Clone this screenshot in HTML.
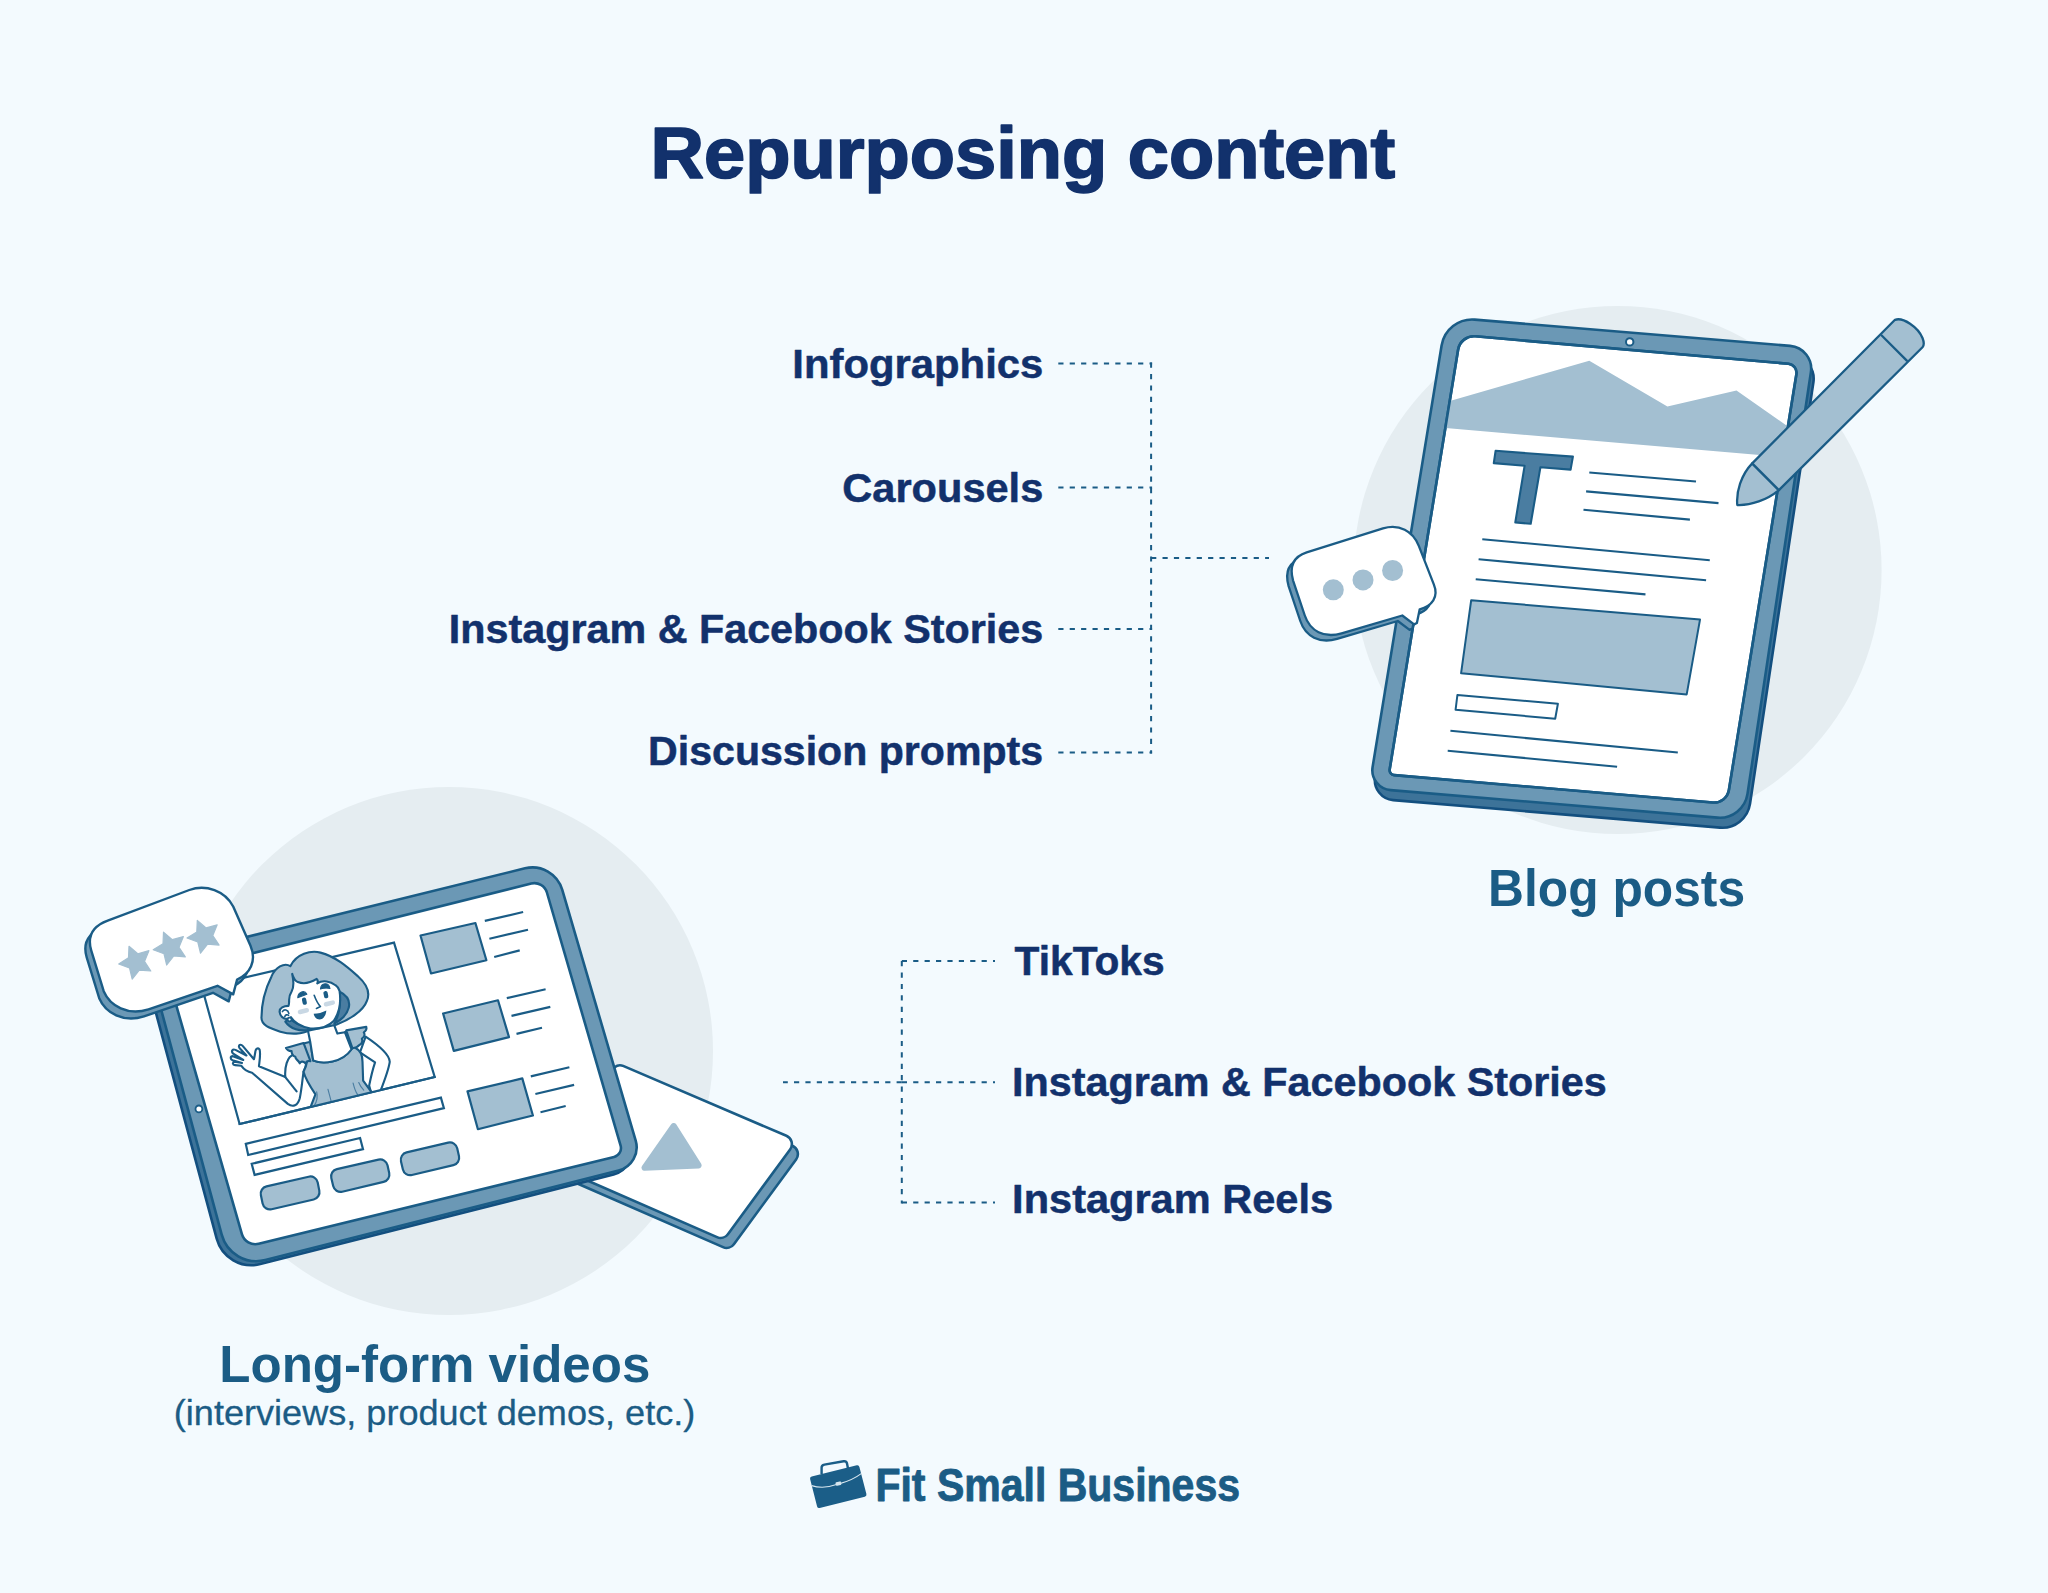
<!DOCTYPE html>
<html><head><meta charset="utf-8"><title>Repurposing content</title>
<style>
html,body{margin:0;padding:0;background:#f3fafe;}
body{width:2048px;height:1593px;overflow:hidden;font-family:"Liberation Sans",sans-serif;}
svg{display:block}
text{font-family:"Liberation Sans",sans-serif;}
</style></head><body>
<svg width="2048" height="1593" viewBox="0 0 2048 1593">
<rect width="2048" height="1593" fill="#f3fafe"/>
<circle cx="1617.6" cy="570" r="264" fill="#e5edf1"/>
<circle cx="449" cy="1051" r="264" fill="#e5edf1"/>
<g stroke="#1a5c86" stroke-width="2" fill="none" stroke-dasharray="5.2 6.2">
<path d="M1058.3,363.6 H1152.1"/>
<path d="M1058.3,487.4 H1152.1"/>
<path d="M1058.3,629.1 H1152.1"/>
<path d="M1058.3,752.6 H1152.1"/>
<path d="M1151.1,362.6 V753.6"/>
<path d="M1151.1,558 H1269"/>
<path d="M901.8,961.1 H995"/>
<path d="M901.8,1082.2 H995"/>
<path d="M901.8,1202.6 H995"/>
<path d="M901.8,961.1 V1203.6"/>
<path d="M901.8,1082.2 H783"/>
</g>
<text x="650.6" y="178.3" font-size="72.6" font-weight="bold" fill="#12316c" text-anchor="start" textLength="744.6" lengthAdjust="spacingAndGlyphs" stroke="#12316c" stroke-width="1.7" stroke-linejoin="round">Repurposing content</text>
<text x="792.3" y="377.9" font-size="41.2" font-weight="bold" fill="#12316c" text-anchor="start" textLength="251" lengthAdjust="spacingAndGlyphs" stroke="#12316c" stroke-width="0.5" stroke-linejoin="round">Infographics</text>
<text x="842.3" y="501.9" font-size="41.2" font-weight="bold" fill="#12316c" text-anchor="start" textLength="201" lengthAdjust="spacingAndGlyphs" stroke="#12316c" stroke-width="0.5" stroke-linejoin="round">Carousels</text>
<text x="448.8" y="643.1" font-size="41.2" font-weight="bold" fill="#12316c" text-anchor="start" textLength="594.4" lengthAdjust="spacingAndGlyphs" stroke="#12316c" stroke-width="0.5" stroke-linejoin="round">Instagram &amp; Facebook Stories</text>
<text x="648.1" y="764.8" font-size="41.2" font-weight="bold" fill="#12316c" text-anchor="start" textLength="395" lengthAdjust="spacingAndGlyphs" stroke="#12316c" stroke-width="0.5" stroke-linejoin="round">Discussion prompts</text>
<text x="1014.6" y="974.9" font-size="41.2" font-weight="bold" fill="#12316c" text-anchor="start" textLength="150" lengthAdjust="spacingAndGlyphs" stroke="#12316c" stroke-width="0.5" stroke-linejoin="round">TikToks</text>
<text x="1012.1" y="1096.4" font-size="41.2" font-weight="bold" fill="#12316c" text-anchor="start" textLength="594.6" lengthAdjust="spacingAndGlyphs" stroke="#12316c" stroke-width="0.5" stroke-linejoin="round">Instagram &amp; Facebook Stories</text>
<text x="1012.1" y="1212.7" font-size="41.2" font-weight="bold" fill="#12316c" text-anchor="start" textLength="321" lengthAdjust="spacingAndGlyphs" stroke="#12316c" stroke-width="0.5" stroke-linejoin="round">Instagram Reels</text>
<text x="1488.1" y="906.4" font-size="51.2" font-weight="bold" fill="#1b5c85" text-anchor="start" textLength="257" lengthAdjust="spacingAndGlyphs">Blog posts</text>
<text x="219.3" y="1382.3" font-size="50.9" font-weight="bold" fill="#1b5c85" text-anchor="start" textLength="431" lengthAdjust="spacingAndGlyphs">Long-form videos</text>
<text x="173.8" y="1425.3" font-size="35" font-weight="normal" fill="#1b5c85" text-anchor="start" textLength="521.5" lengthAdjust="spacingAndGlyphs" stroke="#1b5c85" stroke-width="0.3" stroke-linejoin="round">(interviews, product demos, etc.)</text>
<text x="875.4" y="1501.1" font-size="45.6" font-weight="bold" fill="#1b5c85" stroke="#1b5c85" stroke-width="0.9" stroke-linejoin="round" textLength="364.6" lengthAdjust="spacingAndGlyphs">Fit Small Business</text>
<g stroke-linejoin="round" stroke-linecap="round">
<path d="M1444.1,355.5 A31.0,31.0 0 0 1 1477.2,329.6 L1792.6,355.9 A23.0,23.0 0 0 1 1813.4,382.2 L1750.0,803.9 A28.0,28.0 0 0 1 1720.0,827.6 L1393.2,800.1 A20.0,20.0 0 0 1 1375.1,777.0 Z" fill="#3d7399" stroke="#134f7f" stroke-width="2.6"/>
<path d="M1441.6,345.5 A31.0,31.0 0 0 1 1474.7,319.6 L1790.1,345.9 A23.0,23.0 0 0 1 1810.9,372.2 L1747.5,793.9 A28.0,28.0 0 0 1 1717.5,817.6 L1390.7,790.1 A20.0,20.0 0 0 1 1372.6,767.0 Z" fill="#6b98b5" stroke="#1a5c86" stroke-width="2.6"/>
<clipPath id="rscr"><path d="M1458.1,349.7 A16.0,16.0 0 0 1 1475.3,336.3 L1788.4,363.8 A9.0,9.0 0 0 1 1796.4,374.2 L1728.9,790.0 A15.0,15.0 0 0 1 1712.8,802.5 L1394.2,775.1 A5.0,5.0 0 0 1 1389.7,769.3 Z"/></clipPath>
<path d="M1458.1,349.7 A16.0,16.0 0 0 1 1475.3,336.3 L1788.4,363.8 A9.0,9.0 0 0 1 1796.4,374.2 L1728.9,790.0 A15.0,15.0 0 0 1 1712.8,802.5 L1394.2,775.1 A5.0,5.0 0 0 1 1389.7,769.3 Z" fill="#ffffff" stroke="#1a5c86" stroke-width="2.6"/>
<g clip-path="url(#rscr)">
<polygon points="1440.0,404.0 1449.9,401.1 1589.3,360.7 1667.4,406.4 1736.5,390.4 1795.0,431.5 1795.0,458.0 1440.0,427.5" fill="#a3bfd1"/>
</g>
<path d="M1458.1,349.7 A16.0,16.0 0 0 1 1475.3,336.3 L1788.4,363.8 A9.0,9.0 0 0 1 1796.4,374.2 L1728.9,790.0 A15.0,15.0 0 0 1 1712.8,802.5 L1394.2,775.1 A5.0,5.0 0 0 1 1389.7,769.3 Z" fill="none" stroke="#1a5c86" stroke-width="2.6"/>
<circle cx="1629.7" cy="341.9" r="3.7" fill="#fff" stroke="#1a5c86" stroke-width="2"/>
<polygon points="1495.6,450.8 1572.9,456.6 1570.6,469.6 1540.4,467.2 1530.7,523.8 1515.3,522.4 1524.6,465.8 1493.8,463.1" fill="#4a7da1" stroke="#1a5c86" stroke-width="2.1"/>
<line x1="1589.3" y1="472.5" x2="1696" y2="481.5" stroke="#1a5c86" stroke-width="2.1" stroke-linecap="butt"/>
<line x1="1586.1" y1="491.4" x2="1718.5" y2="503.1" stroke="#1a5c86" stroke-width="2.1" stroke-linecap="butt"/>
<line x1="1583.5" y1="509.7" x2="1689.9" y2="519.6" stroke="#1a5c86" stroke-width="2.1" stroke-linecap="butt"/>
<line x1="1482.3" y1="539.2" x2="1709.8" y2="560.3" stroke="#1a5c86" stroke-width="2.1" stroke-linecap="butt"/>
<line x1="1478.6" y1="559.2" x2="1706.1" y2="580.2" stroke="#1a5c86" stroke-width="2.1" stroke-linecap="butt"/>
<line x1="1475.7" y1="579.2" x2="1645.5" y2="594.4" stroke="#1a5c86" stroke-width="2.1" stroke-linecap="butt"/>
<line x1="1450.4" y1="730.8" x2="1677.8" y2="752.5" stroke="#1a5c86" stroke-width="2.1" stroke-linecap="butt"/>
<line x1="1447.7" y1="750.7" x2="1617.1" y2="766.8" stroke="#1a5c86" stroke-width="2.1" stroke-linecap="butt"/>
<polygon points="1471.2,600.2 1700.0,619.6 1686.7,694.4 1461.1,673.2" fill="#a3bfd1" stroke="#1a5c86" stroke-width="2"/>
<polygon points="1457.4,695.0 1557.9,703.7 1555.2,718.7 1455.6,709.7" fill="#fff" stroke="#1a5c86" stroke-width="2"/>
<path d="M1752.2,463.4 C1741,475 1736,492 1737.3,505 C1751,505.5 1767,500 1778.9,490.1 Z" fill="#a3bfd1" stroke="#1a5c86" stroke-width="2.3"/>
<path d="M1752.2,463.4 L1895,319.8 C1903,317 1918,327 1922.5,338 C1924.5,343 1924,345.5 1922.5,347.3 L1778.9,490.1 Z" fill="#a3bfd1" stroke="#1a5c86" stroke-width="2.3"/>
<line x1="1881.7" y1="335.5" x2="1906.8" y2="360.6" stroke="#1a5c86" stroke-width="2.3"/>
<path d="M1306.7,552.4 L1383,528.4 C1399,523.5 1413,531 1418.8,545.8 L1433.8,584.4 C1439,597 1432,606 1419.7,609.3 L1416.9,623 L1414.1,624.4 L1402.3,615.5 L1341.6,633.4 C1324,638.5 1310,631 1304.8,615.5 L1293.1,580.6 C1289,566 1294,556.5 1306.7,552.4 Z" transform="translate(-4.5,5.5)" fill="#6b98b5" stroke="#1a5c86" stroke-width="2.3"/>
<path d="M1306.7,552.4 L1383,528.4 C1399,523.5 1413,531 1418.8,545.8 L1433.8,584.4 C1439,597 1432,606 1419.7,609.3 L1416.9,623 L1414.1,624.4 L1402.3,615.5 L1341.6,633.4 C1324,638.5 1310,631 1304.8,615.5 L1293.1,580.6 C1289,566 1294,556.5 1306.7,552.4 Z" fill="#fff" stroke="#1a5c86" stroke-width="2.3"/>
<circle cx="1333.3" cy="589.8" r="10.5" fill="#a3bfd1"/>
<circle cx="1363" cy="579.9" r="10.5" fill="#a3bfd1"/>
<circle cx="1392.6" cy="570.5" r="10.5" fill="#a3bfd1"/>
</g>
<g stroke-linejoin="round" stroke-linecap="round">
<path d="M618.8,1079.5 A8.0,8.0 0 0 1 629.1,1075.9 L792.4,1145.8 A9.0,9.0 0 0 1 796.1,1159.4 L733.9,1244.2 A9.0,9.0 0 0 1 723.0,1247.1 L573.9,1182.0 A8.0,8.0 0 0 1 570.1,1170.9 Z" fill="#6b98b5" stroke="#1a5c86" stroke-width="2.6"/>
<path d="M612.8,1069.5 A8.0,8.0 0 0 1 623.1,1065.9 L786.4,1135.8 A9.0,9.0 0 0 1 790.1,1149.4 L727.9,1234.2 A9.0,9.0 0 0 1 717.0,1237.1 L567.9,1172.0 A8.0,8.0 0 0 1 564.1,1160.9 Z" fill="#fff" stroke="#1a5c86" stroke-width="2.6"/>
<path d="M671.2,1124.2 A3.0,3.0 0 0 1 676.2,1124.3 L701.2,1163.8 A3.0,3.0 0 0 1 698.8,1168.4 L644.6,1170.7 A3.0,3.0 0 0 1 642.0,1166.0 Z" fill="#a3bfd1"/>
<path d="M151.1,994.9 A30.0,30.0 0 0 1 172.8,958.0 L520.0,872.3 A31.0,31.0 0 0 1 557.2,893.7 L630.7,1144.6 A24.0,24.0 0 0 1 613.6,1174.6 L260.3,1264.1 A36.0,36.0 0 0 1 216.7,1238.6 Z" fill="#3d7399" stroke="#134f7f" stroke-width="2.6"/>
<path d="M156.1,990.9 A30.0,30.0 0 0 1 177.8,954.0 L525.0,868.3 A31.0,31.0 0 0 1 562.2,889.7 L635.7,1140.6 A24.0,24.0 0 0 1 618.6,1170.6 L265.3,1260.1 A36.0,36.0 0 0 1 221.7,1234.6 Z" fill="#6b98b5" stroke="#1a5c86" stroke-width="2.6"/>
<path d="M170.8,986.4 A12.0,12.0 0 0 1 179.5,971.5 L531.3,883.5 A13.0,13.0 0 0 1 546.9,892.5 L620.6,1145.7 A9.0,9.0 0 0 1 614.1,1156.9 L258.7,1243.8 A14.0,14.0 0 0 1 241.9,1234.1 Z" fill="#fff" stroke="#1a5c86" stroke-width="2.6"/>
<circle cx="198.9" cy="1108.9" r="3.4" fill="#fff" stroke="#1a5c86" stroke-width="1.8"/>
<polygon points="420.5,935.5 475.4,923.0 486.4,960.3 431.0,973.5" fill="#a3bfd1" stroke="#1a5c86" stroke-width="2.2"/>
<polygon points="443.1,1013.5 498.0,1000.3 509.0,1037.1 453.8,1050.9" fill="#a3bfd1" stroke="#1a5c86" stroke-width="2.2"/>
<polygon points="467.5,1091.4 522.3,1078.4 532.9,1115.5 477.9,1129.2" fill="#a3bfd1" stroke="#1a5c86" stroke-width="2.2"/>
<line x1="484.8" y1="920.9" x2="523.1" y2="912" stroke="#1a5c86" stroke-width="2.2" stroke-linecap="butt"/>
<line x1="489.4" y1="938.8" x2="528" y2="929.7" stroke="#1a5c86" stroke-width="2.2" stroke-linecap="butt"/>
<line x1="494.2" y1="957" x2="519.7" y2="950.4" stroke="#1a5c86" stroke-width="2.2" stroke-linecap="butt"/>
<line x1="506.8" y1="998.1" x2="545.6" y2="989.2" stroke="#1a5c86" stroke-width="2.2" stroke-linecap="butt"/>
<line x1="511.5" y1="1015.9" x2="550.3" y2="1006.9" stroke="#1a5c86" stroke-width="2.2" stroke-linecap="butt"/>
<line x1="516.5" y1="1033.9" x2="542" y2="1027.8" stroke="#1a5c86" stroke-width="2.2" stroke-linecap="butt"/>
<line x1="530.8" y1="1076.4" x2="569.4" y2="1067.2" stroke="#1a5c86" stroke-width="2.2" stroke-linecap="butt"/>
<line x1="535.4" y1="1094" x2="574.1" y2="1084.9" stroke="#1a5c86" stroke-width="2.2" stroke-linecap="butt"/>
<line x1="540.5" y1="1112.2" x2="565.7" y2="1106" stroke="#1a5c86" stroke-width="2.2" stroke-linecap="butt"/>
<polygon points="245.8,1143.9 440.9,1097.6 443.9,1108.1 248.2,1155.0" fill="#fff" stroke="#1a5c86" stroke-width="2.2" stroke-linejoin="miter"/>
<polygon points="251.7,1163.8 360.1,1138.0 363.0,1149.1 254.6,1174.9" fill="#fff" stroke="#1a5c86" stroke-width="2.2" stroke-linejoin="miter"/>
<path d="M260.9,1195.3 A7.5,7.5 0 0 1 266.5,1186.4 L308.6,1176.7 A7.5,7.5 0 0 1 317.7,1182.5 L319.3,1190.6 A7.5,7.5 0 0 1 313.7,1199.5 L271.6,1209.2 A7.5,7.5 0 0 1 262.6,1203.5 Z" fill="#a3bfd1" stroke="#1a5c86" stroke-width="2.2"/>
<path d="M331.3,1178.1 A7.5,7.5 0 0 1 336.9,1169.1 L378.5,1159.6 A7.5,7.5 0 0 1 387.5,1165.3 L389.2,1173.0 A7.5,7.5 0 0 1 383.6,1181.9 L342.2,1191.7 A7.5,7.5 0 0 1 333.2,1186.1 Z" fill="#a3bfd1" stroke="#1a5c86" stroke-width="2.2"/>
<path d="M401.0,1161.4 A7.5,7.5 0 0 1 406.6,1152.4 L448.2,1142.6 A7.5,7.5 0 0 1 457.2,1148.3 L459.0,1156.2 A7.5,7.5 0 0 1 453.4,1165.1 L411.9,1175.0 A7.5,7.5 0 0 1 402.9,1169.4 Z" fill="#a3bfd1" stroke="#1a5c86" stroke-width="2.2"/>
<polygon points="202.0,987.6 394.0,942.6 434.7,1077.0 239.6,1124.0" fill="#fff" stroke="#1a5c86" stroke-width="2.2" stroke-linejoin="miter"/>
<clipPath id="pclip"><polygon points="-300,-300 2300,-300 2300,1047 1790,1170 235,1545 -300,1674"/></clipPath>
<g transform="translate(210,930) scale(0.12552)"><g clip-path="url(#pclip)" stroke-width="17" stroke="#1a5c86">
<path d="M1240,850 C1330,910 1430,990 1432,1050 C1425,1100 1390,1200 1355,1290 L1285,1300 L1268,1240 C1280,1180 1300,1100 1315,1055 L1195,975 Z" fill="#fff"/>
<path d="M668,992 C612,1008 594,1100 600,1172 L390,1085 C395,1040 405,985 395,952 C385,935 365,945 362,965 C358,990 355,1010 350,1030 L262,925 C245,905 220,915 235,940 L290,1000 L203,955 C180,945 165,965 185,985 L265,1035 L182,1005 C160,1005 160,1030 180,1037 L255,1060 L197,1050 C175,1055 180,1075 200,1077 L250,1082 C270,1110 300,1130 335,1137 L620,1385 C660,1415 700,1400 715,1340 C730,1270 735,1200 745,1130 C760,1100 770,1070 765,1050 L700,1000 Z" fill="#fff"/>
<path d="M600,1172 L690,1285" fill="none"/>
<path d="M745,905 L800,890 L822,1040 C900,1070 1050,1060 1128,950 L1075,815 L1100,805 L1160,940 C1200,960 1215,1000 1215,1050 L1220,1200 L1300,1310 L790,1440 L840,1310 C800,1250 760,1190 745,1130 C760,1100 770,1070 775,1040 Z" fill="#a3bfd1"/>
<path d="M778,790 L798,888 L822,1040 C900,1070 1050,1060 1128,950 L1075,815 L1015,825 L985,745 Z" fill="#fff"/>
<path d="M605,940 L745,900 L800,1045 C780,1038 768,1048 760,1062 C740,1040 722,1048 715,1062 C700,1032 680,1032 680,1010 C660,1002 650,986 650,965 C630,966 615,956 605,940 Z" fill="#a3bfd1"/>
<path d="M1085,800 L1245,772 C1250,790 1240,806 1225,815 C1240,835 1226,856 1210,865 C1220,890 1206,910 1190,916 C1180,930 1160,940 1135,942 Z" fill="#a3bfd1"/>
<path d="M850,1290 C860,1330 850,1370 830,1400 M940,1270 C950,1310 960,1340 965,1365 M1140,1220 C1150,1260 1160,1290 1175,1310 M1185,1215 C1195,1240 1210,1260 1225,1275" fill="none" stroke="#4a7da1" stroke-width="9"/>
<path d="M640,288 C690,190 800,160 880,180 C1000,210 1100,300 1180,370 C1245,428 1280,495 1250,565 C1220,650 1100,720 1005,755 L790,800 C740,830 640,835 560,810 C470,780 410,760 410,700 C410,600 440,470 490,370 C520,300 590,255 640,288 Z" fill="#a3bfd1"/>
<path d="M1030,490 C1090,520 1120,560 1105,620 C1090,680 1040,720 990,745 C1030,680 1045,580 1030,490 Z" fill="#4a7da1"/>
<path d="M600,730 C640,790 720,810 790,795 L780,775 C720,765 660,735 640,700 Z" fill="#4a7da1"/>
<path d="M655,350 C665,385 680,405 700,415 C750,435 810,415 850,390 C860,400 860,415 855,425 C900,395 960,410 1000,440 C1015,450 1025,465 1032,485 C1045,570 1030,660 985,725 C945,765 880,790 800,785 C730,770 670,735 645,695 C610,725 560,700 555,655 C550,620 590,605 625,605 C640,560 615,545 650,490 C675,445 665,395 655,350 Z" fill="#fff"/>
<path d="M577,650 C590,628 622,634 628,664 M596,690 C600,675 615,672 626,680" fill="none" stroke-width="13"/>
<circle cx="634" cy="713" r="15" fill="#fff" stroke-width="13"/>
<g stroke="none" fill="#1a5c86"><rect x="735" y="538" width="34" height="58" rx="15" transform="rotate(-12 752 567)"/><rect x="906" y="486" width="34" height="58" rx="15" transform="rotate(-12 923 515)"/><path d="M699,540 C700,490 755,475 772,512 C750,520 725,528 699,540 Z" stroke="#1a5c86" stroke-width="8"/><path d="M880,470 C885,420 945,412 956,466 C935,462 905,462 880,470 Z" stroke="#1a5c86" stroke-width="8"/><path d="M826,668 C860,668 895,658 927,642 C924,697 885,724 855,710 C840,702 829,686 826,668 Z"/></g>
<path d="M830,520 C845,560 860,590 880,610 L848,625" fill="none" stroke-width="13"/>
<g stroke="none" fill="#c9d8e4"><rect x="698" y="628" width="92" height="36" rx="18" transform="rotate(-14 744 646)"/><rect x="905" y="567" width="92" height="36" rx="18" transform="rotate(-14 951 585)"/></g>
</g></g>
<polyline points="434.7,1077.0 239.6,1124.0" fill="none" stroke="#1a5c86" stroke-width="2.2"/>
<path d="M107.7,920.6 L189.3,890 C206,884 225,891 233.2,906.5 L250.5,945.7 C257,961 250,974 237.1,979.5 L233.2,994.4 L217.5,985.8 L148.5,1009.3 C128,1016 110,1006 103.7,991.2 L91.2,950.4 C87,936 93,926 107.7,920.6 Z" transform="translate(-4.5,7)" fill="#6b98b5" stroke="#1a5c86" stroke-width="2.4"/>
<path d="M107.7,920.6 L189.3,890 C206,884 225,891 233.2,906.5 L250.5,945.7 C257,961 250,974 237.1,979.5 L233.2,994.4 L217.5,985.8 L148.5,1009.3 C128,1016 110,1006 103.7,991.2 L91.2,950.4 C87,936 93,926 107.7,920.6 Z" fill="#fff" stroke="#1a5c86" stroke-width="2.4"/>
<polygon points="129.0,946.3 137.8,953.8 148.9,950.7 144.5,961.4 150.8,971.0 139.3,970.1 132.2,979.1 129.5,967.9 118.7,963.9 128.5,957.8" fill="#a3bfd1" stroke="#a3bfd1" stroke-width="1.2"/>
<polygon points="163.5,932.2 172.3,939.7 183.4,936.6 179.0,947.3 185.3,956.9 173.8,956.0 166.7,965.0 164.0,953.8 153.2,949.8 163.0,943.7" fill="#a3bfd1" stroke="#a3bfd1" stroke-width="1.2"/>
<polygon points="197.3,920.4 206.1,927.9 217.2,924.8 212.8,935.5 219.1,945.1 207.6,944.2 200.5,953.2 197.8,942.0 187.0,938.0 196.8,931.9" fill="#a3bfd1" stroke="#a3bfd1" stroke-width="1.2"/>
</g>
<path d="M821.6,1474 L821.6,1467.6 C821.5,1465.8 822.6,1465 824.4,1464.6 L843.6,1461.3 C845.6,1461 846.6,1461.8 847,1463.4 L848,1468.5" fill="none" stroke="#1b5e88" stroke-width="2.4" stroke-linecap="butt" stroke-linejoin="round"/>
<path d="M810.1,1479.1 A2.2,2.2 0 0 1 811.7,1476.4 L856.8,1465.3 A2.2,2.2 0 0 1 859.4,1466.9 L866.4,1494.1 A2.2,2.2 0 0 1 864.8,1496.7 L819.7,1508.0 A2.2,2.2 0 0 1 817.1,1506.4 Z" fill="#1b5e88"/>
<path d="M811.6,1485.6 C820,1488.2 829,1487.2 836.5,1484.6 M840.5,1483.4 C849,1481 856,1477.5 861.2,1473.6" fill="none" stroke="#d7e6ef" stroke-width="1.1"/>
<rect x="835.6" y="1481.8" width="5.6" height="3.6" rx="1" fill="#d7e6ef" transform="rotate(-14 838.4 1483.6)"/>
</svg>
</body></html>
